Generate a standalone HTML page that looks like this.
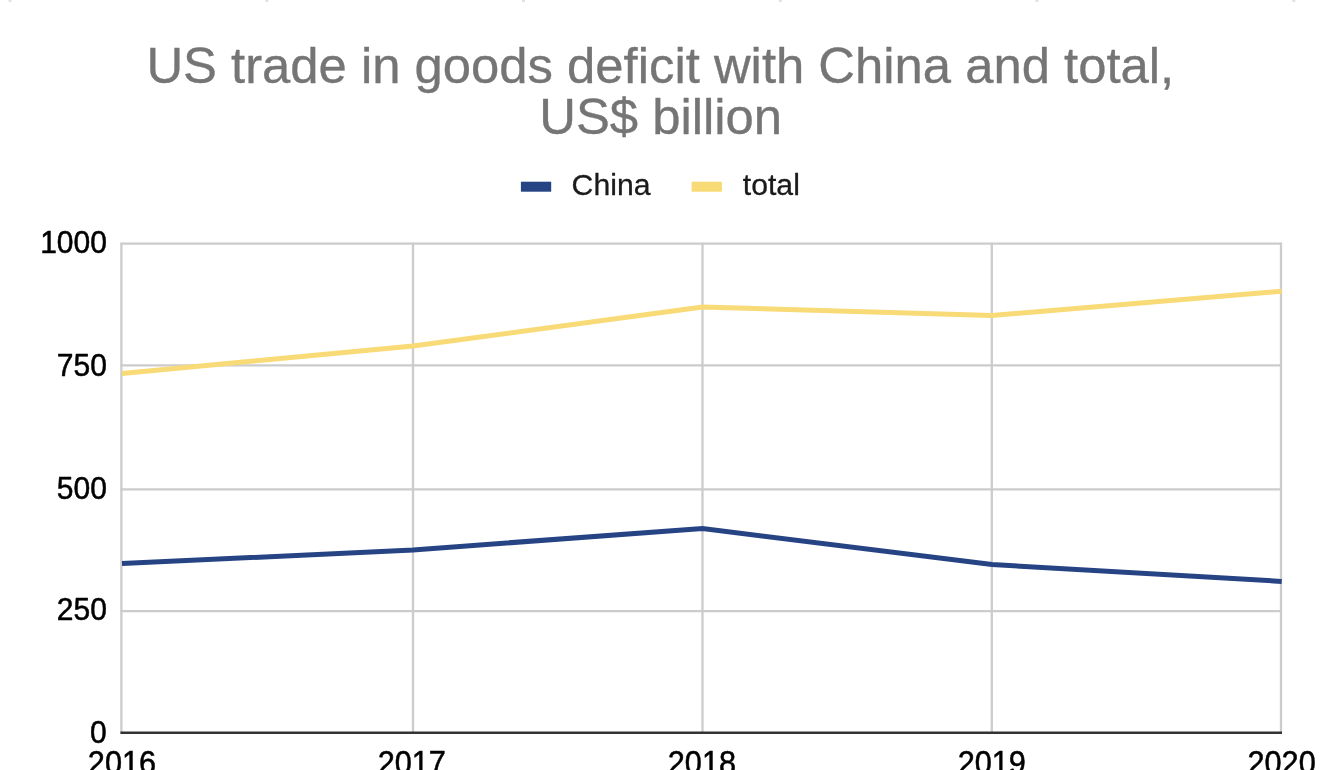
<!DOCTYPE html>
<html lang="en">
<head>
<meta charset="utf-8">
<title>US trade in goods deficit with China and total, US$ billion</title>
<style>
html,body{margin:0;padding:0;background:#fff;}
body{width:1320px;height:770px;overflow:hidden;position:relative;}
svg{position:absolute;left:0;top:0;display:block;}
text{font-family:"Liberation Sans",Arial,Helvetica,sans-serif;stroke-linejoin:round;}
.title{font-size:50.8px;fill:#757575;stroke:#757575;stroke-width:0.35;text-anchor:middle;}
.leg{font-size:30.2px;fill:#1a1a1a;stroke:#1a1a1a;stroke-width:0.3;}
.ax{font-size:30.0px;fill:#000;stroke:#000;stroke-width:0.5;}
.yl{text-anchor:end;}
.xl{text-anchor:middle;font-size:30.7px;}
</style>
</head>
<body>
<svg width="1320" height="770" viewBox="0 0 1320 770">
  <rect x="0" y="0" width="1320" height="770" fill="#ffffff"/>
  <!-- top ticks -->
  <g fill="#e0e2e2">
    <rect x="8.5" y="0" width="3" height="2"/>
    <rect x="265.3" y="0" width="3" height="2"/>
    <rect x="522.0" y="0" width="3" height="2"/>
    <rect x="778.8" y="0" width="3" height="2"/>
    <rect x="1035.5" y="0" width="3" height="2"/>
    <rect x="1292.3" y="0" width="3" height="2"/>
  </g>
  <!-- title -->
  <text class="title" x="660.30" y="82.80">US trade in goods deficit with China and total,</text>
  <text class="title" x="660.70" y="133.80">US$ billion</text>
  <!-- legend -->
  <rect x="520.9" y="181.7" width="30.3" height="10" fill="#264484"/>
  <text class="leg" x="571.60" y="195.30">China</text>
  <rect x="691.6" y="181.7" width="30.4" height="10" fill="#f8da76"/>
  <text class="leg" x="742.80" y="195.30">total</text>
  <!-- gridlines -->
  <g stroke="#cccccc" stroke-width="2.3" fill="none">
    <line x1="120.4" y1="243.7" x2="1282.0" y2="243.7"/>
    <line x1="120.4" y1="365.4" x2="1282.0" y2="365.4"/>
    <line x1="120.4" y1="489.3" x2="1282.0" y2="489.3"/>
    <line x1="120.4" y1="611.2" x2="1282.0" y2="611.2"/>
    <line x1="121.4" y1="242.7" x2="121.4" y2="732.7"/>
    <line x1="413.0" y1="242.7" x2="413.0" y2="732.7"/>
    <line x1="702.5" y1="242.7" x2="702.5" y2="732.7"/>
    <line x1="991.8" y1="242.7" x2="991.8" y2="732.7"/>
    <line x1="1281.0" y1="242.7" x2="1281.0" y2="732.7"/>
  </g>
  <!-- baseline -->
  <line x1="120.4" y1="732.7" x2="1282.0" y2="732.7" stroke="#333333" stroke-width="2.6"/>
  <!-- series -->
  <polyline fill="none" stroke="#f8da76" stroke-width="5.0" stroke-linejoin="miter" points="122.0,373.5 413.0,346.0 702.5,306.9 992.0,315.5 1281.7,291.2"/>
  <polyline fill="none" stroke="#264484" stroke-width="5.0" stroke-linejoin="miter" points="122.0,563.6 413.0,549.9 702.5,528.5 992.0,564.5 1281.7,581.4"/>
  <!-- y axis labels -->
  <text class="ax yl" transform="translate(106.90 253.50) rotate(0.02) scale(1 1.06)">1000</text>
  <text class="ax yl" transform="translate(106.90 376.50) rotate(0.02) scale(1 1.06)">750</text>
  <text class="ax yl" transform="translate(106.90 499.40) rotate(0.02) scale(1 1.06)">500</text>
  <text class="ax yl" transform="translate(106.90 620.30) rotate(0.02) scale(1 1.06)">250</text>
  <text class="ax yl" transform="translate(106.60 743.40) rotate(0.02) scale(1 1.06)">0</text>
  <!-- x axis labels -->
  <text class="ax xl" transform="translate(122.00 774.20) rotate(0.02) scale(1 1.06)">2016</text>
  <text class="ax xl" transform="translate(411.80 774.20) rotate(0.02) scale(1 1.06)">2017</text>
  <text class="ax xl" transform="translate(701.90 774.20) rotate(0.02) scale(1 1.06)">2018</text>
  <text class="ax xl" transform="translate(991.80 774.20) rotate(0.02) scale(1 1.06)">2019</text>
  <text class="ax xl" transform="translate(1281.60 774.20) rotate(0.02) scale(1 1.06)">2020</text>
</svg>
</body>
</html>
